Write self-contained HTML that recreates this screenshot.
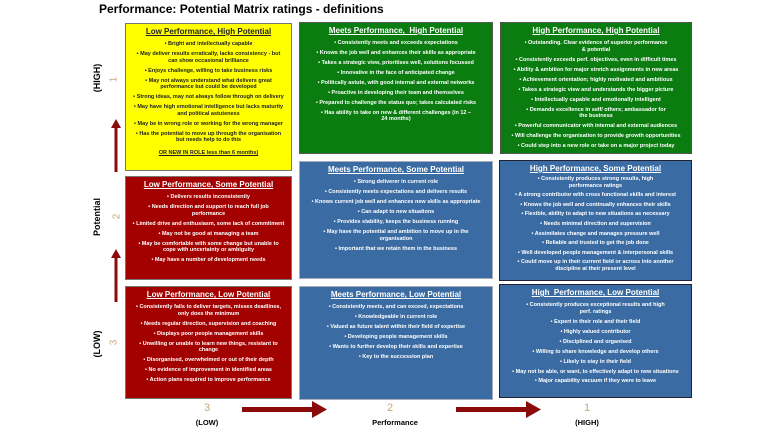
<!DOCTYPE html>
<html><head><meta charset="utf-8"><style>
body{margin:0;width:768px;height:433px;background:#fff;position:relative;overflow:hidden;font-family:"Liberation Sans",Arial,sans-serif}
.b{position:absolute;box-sizing:border-box;text-align:center;color:#fff;font-weight:bold;font-size:5.5px;line-height:6.6px;padding:3px 8px}
.b h{display:block;font-size:8px;line-height:10px;text-decoration:underline;margin-bottom:4px}
.b p{margin:0 0 3.4px 0}
.y{background:#ffff00;color:#222;border:1.5px solid #777;padding:3px 6px}
.r{background:#a30000;border:1.5px solid #777;padding:3px 6px}
.g{background:#0a7c10;border:1.5px solid #555}
.u{background:#3a6ca3;border:1.5px solid #aab}
.u2{background:#3a6ca3;border:1.5px solid #223}
.t{position:absolute;font-weight:bold}
.rot{position:absolute;transform:rotate(-90deg);transform-origin:center;font-weight:bold;white-space:nowrap}
</style></head><body>
<div class="t" style="left:99px;top:2px;font-size:12px;">Performance: Potential Matrix ratings - definitions</div>

<div class="b y" style="left:125px;top:23px;width:167px;height:148px">
<h>Low Performance, High Potential</h>
<p>• Bright and intellectually capable</p>
<p>• May deliver results erratically, lacks consistency - but can show occasional brilliance</p>
<p>• Enjoys challenge, willing to take business risks</p>
<p>• May not always understand what delivers great performance but could be developed</p>
<p>• Strong ideas, may not always follow through on delivery</p>
<p>• May have high emotional intelligence but lacks maturity and political astuteness</p>
<p>• May be in wrong role or working for the wrong manager</p>
<p>• Has the potential to move up through the organisation but needs help to do this</p>
<p style="text-decoration:underline;margin-top:6px">OR NEW IN ROLE less than 6 months)</p>
</div>
<div class="b g" style="left:299px;top:22px;width:194px;height:132px">
<h>Meets Performance,&nbsp; High Potential</h>
<p>• Consistently meets and exceeds expectations</p>
<p>• Knows the job well and enhances their skills as appropriate</p>
<p>• Takes a strategic view, prioritises well, solutions focussed</p>
<p>• Innovative in the face of anticipated change</p>
<p>• Politically astute, with good internal and external networks</p>
<p>• Proactive in developing their team and themselves</p>
<p>• Prepared to challenge the status quo; takes calculated risks</p>
<p style="padding:0 12px">• Has ability to take on new &amp; different challenges (in 12 –24 months)</p>
</div>
<div class="b g" style="left:500px;top:22px;width:192px;height:132px">
<h>High Performance, High Potential</h>
<p style="padding:0 14px">• Outstanding. Clear evidence of superior performance &amp; potential</p>
<p>• Consistently exceeds perf. objectives, even in difficult times</p>
<p>• Ability &amp; ambition for major stretch assignments in new areas</p>
<p>• Achievement orientation; highly motivated and ambitious</p>
<p>• Takes a strategic view and understands the bigger picture</p>
<p>• Intellectually capable and emotionally intelligent</p>
<p style="padding:0 14px">• Demands excellence in self/ others; ambassador for the business</p>
<p>• Powerful communicator with internal and external audiences</p>
<p>• Will challenge the organisation to provide growth opportunities</p>
<p>• Could step into a new role or take on a major project today</p>
</div>

<div class="b r" style="left:125px;top:176px;width:167px;height:104px">
<h>Low Performance, Some Potential</h>
<p>• Delivers results inconsistently</p>
<p>• Needs direction and support to reach full job performance</p>
<p>• Limited drive and enthusiasm, some lack of commitment</p>
<p>• May not be good at managing a team</p>
<p>• May be comfortable with some change but unable to cope with uncertainty or ambiguity</p>
<p>• May have a number of development needs</p>
</div>
<div class="b u" style="left:299px;top:161px;width:194px;height:118px">
<h>Meets Performance, Some Potential</h>
<p>• Strong deliverer in current role</p>
<p>• Consistently meets expectations and delivers results</p>
<p>• Knows current job well and enhances new skills as appropriate</p>
<p>• Can adapt to new situations</p>
<p>• Provides stability, keeps the business running</p>
<p style="padding:0 14px">• May have the potential and ambition to move up in the organisation</p>
<p>• Important that we retain them in the business</p>
</div>
<div class="b u2" style="left:499px;top:160px;width:193px;height:121px">
<h style="margin-bottom:2px">High Performance, Some Potential</h>
<p style="margin-bottom:3px;padding:0 14px">• Consistently produces strong results, high performance ratings</p>
<p style="margin-bottom:3px">• A strong contributor with cross functional skills and interest</p>
<p style="margin-bottom:3px">• Knows the job well and continually enhances their skills</p>
<p style="margin-bottom:3px">• Flexible, ability to adapt to new situations as necessary</p>
<p style="margin-bottom:3px">• Needs minimal direction and supervision</p>
<p style="margin-bottom:3px">• Assimilates change and manages pressure well</p>
<p style="margin-bottom:3px">• Reliable and trusted to get the job done</p>
<p style="margin-bottom:3px">• Well developed people management &amp; interpersonal skills</p>
<p style="margin-bottom:3px">• Could move up in their current field or across into another discipline at their present level</p>
</div>

<div class="b r" style="left:125px;top:286px;width:167px;height:113px">
<h>Low Performance, Low Potential</h>
<p>• Consistently fails to deliver targets, misses deadlines, only does the minimum</p>
<p>• Needs regular direction, supervision and coaching</p>
<p>• Displays poor people management skills</p>
<p>• Unwilling or unable to learn new things, resistant to change</p>
<p>• Disorganised, overwhelmed or out of their depth</p>
<p>• No evidence of improvement in identified areas</p>
<p>• Action plans required to improve performance</p>
</div>
<div class="b u" style="left:299px;top:286px;width:194px;height:114px">
<h>Meets Performance, Low Potential</h>
<p>• Consistently meets, and can exceed, expectations</p>
<p>• Knowledgeable in current role</p>
<p>• Valued as future talent within their field of expertise</p>
<p>• Developing people management skills</p>
<p>• Wants to further develop their skills and expertise</p>
<p>• Key to the succession plan</p>
</div>
<div class="b u2" style="left:499px;top:284px;width:193px;height:114px">
<h>High&nbsp; Performance, Low Potential</h>
<p style="padding:0 14px">• Consistently produces exceptional results and high perf. ratings</p>
<p>• Expert in their role and their field</p>
<p>• Highly valued contributor</p>
<p>• Disciplined and organised</p>
<p>• Willing to share knowledge and develop others</p>
<p>• Likely to stay in their field</p>
<p>• May not be able, or want, to effectively adapt to new situations</p>
<p>• Major capability vacuum if they were to leave</p>
</div>

<svg style="position:absolute;left:0;top:0" width="768" height="433">
<g fill="#8b0a0a">
<rect x="114.5" y="126" width="3" height="46"/><polygon points="111,128 121,128 116,119"/>
<rect x="114.5" y="256" width="3" height="46"/><polygon points="111,258 121,258 116,249"/>
<rect x="242" y="407" width="72" height="5"/><polygon points="312,401 327,409.5 312,418"/>
<rect x="456" y="407" width="72" height="5"/><polygon points="526,401 541,409.5 526,418"/>
</g>
</svg>
<div class="rot" style="left:82px;top:73px;width:30px;font-size:9px;text-align:center">(HIGH)</div>
<div class="rot" style="left:108px;top:74px;width:12px;font-size:10px;color:#c8a878;text-align:center;font-weight:normal">1</div>
<div class="rot" style="left:72px;top:212px;width:50px;font-size:9px;text-align:center">Potential</div>
<div class="rot" style="left:111px;top:211px;width:12px;font-size:10px;color:#c8a878;text-align:center;font-weight:normal">2</div>
<div class="rot" style="left:82px;top:339px;width:30px;font-size:9px;text-align:center">(LOW)</div>
<div class="rot" style="left:108px;top:337px;width:12px;font-size:10px;color:#c8a878;text-align:center;font-weight:normal">3</div>
<div class="t" style="left:197px;top:402px;width:20px;text-align:center;font-size:11px;color:#c8a878;font-weight:normal">3</div>
<div class="t" style="left:187px;top:418px;width:40px;text-align:center;font-size:7.5px">(LOW)</div>
<div class="t" style="left:380px;top:402px;width:20px;text-align:center;font-size:11px;color:#c8a878;font-weight:normal">2</div>
<div class="t" style="left:360px;top:418px;width:70px;text-align:center;font-size:7.5px">Performance</div>
<div class="t" style="left:577px;top:402px;width:20px;text-align:center;font-size:11px;color:#c8a878;font-weight:normal">1</div>
<div class="t" style="left:567px;top:418px;width:40px;text-align:center;font-size:7.5px">(HIGH)</div>
</body></html>
